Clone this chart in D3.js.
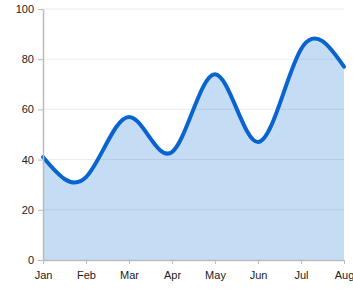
<!DOCTYPE html>
<html>
<head>
<meta charset="utf-8">
<script src="https://cdn.jsdelivr.net/npm/d3@7"></script>
<style>
  html, body { margin: 0; padding: 0; background: #fff; }
  #viz { width: 353px; height: 298px; }
  text { font-family: "Liberation Sans", Arial, sans-serif; font-size: 11px; fill: #222; }
</style>
</head>
<body>
<div id="viz"></div>
<script>
const months = ['Jan', 'Feb', 'Mar', 'Apr', 'May', 'Jun', 'Jul', 'Aug'];
const values = [41, 33, 57, 43, 74, 47, 84, 77];
const yTicks = [0, 20, 40, 60, 80, 100];

(function () {
  const container = document.getElementById('viz');
  const margin = { top: 9, right: 9, bottom: 38, left: 43 };
  const width = 353 - margin.left - margin.right;
  const height = 298 - margin.top - margin.bottom;

  const svg = d3
    .select(container)
    .append('svg')
    .attr('width', 353)
    .attr('height', 298)
    .append('g')
    .attr('transform', `translate(${margin.left},${margin.top})`);

  const x = d3.scalePoint().domain(months).range([0, width]);
  const y = d3.scaleLinear().domain([0, 100]).range([height, 0]);

  const data = months.map((m, i) => ({ month: m, value: values[i] }));

  // Area
  svg
    .append('path')
    .datum(data)
    .attr('fill', '#c4ddf5')
    .attr('d', d3.area()
      .x((d) => x(d.month))
      .y0(height)
      .y1((d) => y(d.value))
      .curve(d3.curveNatural));

  // Grid
  svg
    .append('g')
    .selectAll('line')
    .data(yTicks.slice(1))
    .enter()
    .append('line')
    .attr('x1', 0)
    .attr('x2', width)
    .attr('y1', (d) => y(d))
    .attr('y2', (d) => y(d))
    .attr('stroke', 'rgba(0,0,0,0.08)');

  // Line
  svg
    .append('path')
    .datum(data)
    .attr('fill', 'none')
    .attr('stroke', '#0a64cf')
    .attr('stroke-width', 4)
    .attr('stroke-linecap', 'round')
    .attr('d', d3.line()
      .x((d) => x(d.month))
      .y((d) => y(d.value))
      .curve(d3.curveNatural));

  // Axes
  const yAxis = svg.append('g')
    .call(d3.axisLeft(y).tickValues(yTicks).tickSize(5).tickSizeOuter(0).tickPadding(4));
  const xAxis = svg.append('g')
    .attr('transform', `translate(0,${height})`)
    .call(d3.axisBottom(x).tickSize(4).tickSizeOuter(0).tickPadding(7));

  [yAxis, xAxis].forEach((g) => {
    g.selectAll('path, line').attr('stroke', '#bbb');
    g.select('.domain').attr('stroke-width', 1.5);
    g.selectAll('text').attr('fill', '#222').style('font-size', '11px');
  });
})();
</script>
</body>
</html>
